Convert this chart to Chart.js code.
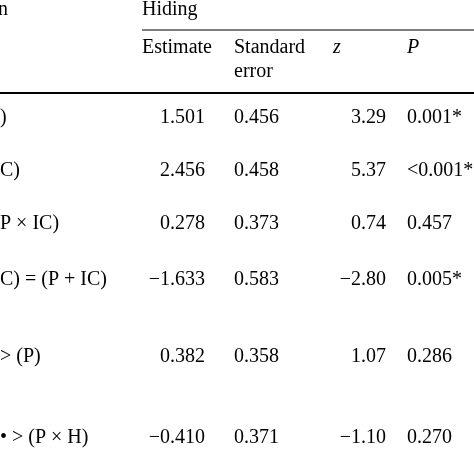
<!DOCTYPE html>
<html>
<head>
<meta charset="UTF-8">
<script src="https://cdn.jsdelivr.net/npm/chart.js"></script>
<style>
  html, body { margin: 0; padding: 0; background: #fff; }
  #wrap { width: 474px; height: 474px; }
</style>
</head>
<body>
<div id="wrap"><canvas id="tbl"></canvas></div>
<script>
  // table contents
  const rowLabels = [')', 'C)', 'P \u00d7 IC)', 'C) = (P + IC)', '> (P)', '\u2022 > (P \u00d7 H)'];
  const estimates = ['1.501', '2.456', '0.278', '\u22121.633', '0.382', '\u22120.410'];
  const stdErrors = ['0.456', '0.458', '0.373', '0.583', '0.358', '0.371'];
  const zValues = ['3.29', '5.37', '0.74', '\u22122.80', '1.07', '\u22121.10'];
  const pValues = ['0.001*', '<0.001*', '0.457', '0.005*', '0.286', '0.270'];

  // layout (pixel units on a 0..474 grid)
  const rowY = [118, 171, 224, 280, 357, 438];
  const colX = { label: 0, est: 205, se: 234, z: 386, p: 407 };
  const FONT = '20px "Liberation Serif", "DejaVu Serif", serif';
  const IFONT = 'italic 20px "Liberation Serif", "DejaVu Serif", serif';

  const textPlugin = {
    id: 'tableText',
    afterDraw(chart) {
      const { ctx, scales: { x, y } } = chart;
      const put = (s, px, py, align, font) => {
        ctx.font = font || FONT;
        ctx.textAlign = align;
        ctx.textBaseline = 'middle';
        ctx.fillStyle = '#000';
        ctx.fillText(s, x.getPixelForValue(px), y.getPixelForValue(py));
      };
      ctx.save();
      put('n', -2, 10, 'left');
      put('Hiding', 142, 10, 'left');
      put('Estimate', 142, 48, 'left');
      put('Standard', 234, 48, 'left');
      put('error', 234, 72, 'left');
      put('z', 333, 48, 'left', IFONT);
      put('P', 407, 48, 'left', IFONT);
      rowY.forEach((ry, i) => {
        put(rowLabels[i], colX.label, ry, 'left');
        put(estimates[i], colX.est, ry, 'right');
        put(stdErrors[i], colX.se, ry, 'left');
        put(zValues[i], colX.z, ry, 'right');
        put(pValues[i], colX.p, ry, 'left');
      });
      ctx.restore();
    }
  };

  new Chart(document.getElementById('tbl'), {
    type: 'scatter',
    data: {
      datasets: [
        { data: [{ x: 142, y: 30 }, { x: 474, y: 30 }], showLine: true, borderColor: '#000', borderWidth: 1.2, pointRadius: 0 },
        { data: [{ x: 0, y: 93 }, { x: 474, y: 93 }], showLine: true, borderColor: '#000', borderWidth: 2, pointRadius: 0 }
      ]
    },
    plugins: [textPlugin],
    options: {
      responsive: true,
      maintainAspectRatio: false,
      animation: false,
      layout: { padding: 0 },
      scales: {
        x: { type: 'linear', min: 0, max: 474, display: false },
        y: { type: 'linear', min: 0, max: 474, reverse: true, display: false }
      },
      plugins: { legend: { display: false }, tooltip: { enabled: false } }
    }
  });
</script>
</body>
</html>
